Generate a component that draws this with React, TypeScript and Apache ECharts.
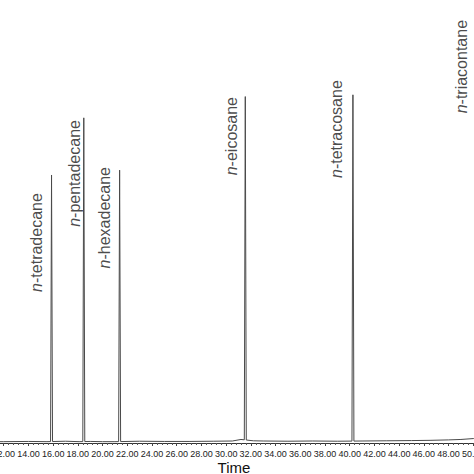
import React, { useEffect, useRef } from "react";
import * as echarts from "echarts";

// Retention times (min) and relative intensities
const peakNames = ["tetradecane", "pentadecane", "hexadecane", "eicosane", "tetracosane", "triacontane"];
const peakTimes = [15.87, 18.48, 21.38, 31.55, 40.26, 50.6];
const peakHeights = [60.5, 73.4, 61.6, 78.2, 78.6, 85];
// label anchor (end of the vertical text) in data units
const labelTimes = [14.64, 17.74, 20.17, 30.4, 38.94, 49.05];
const labelHeights = [56.4, 72.9, 62.3, 78.1, 81.9, 95.5];
// baseline trace
const baselineTimes = [10, 12, 14, 15.5, 17, 18.1, 19, 20, 21, 23, 25, 27, 29, 30.5, 31.2, 32.2, 33, 35, 37, 39, 41, 43, 45, 46.5, 48, 49, 50, 51, 52];
const baselineValues = [0.3, 0.3, 0.35, 0.3, 0.4, 0.3, 0.35, 0.3, 0.3, 0.4, 0.35, 0.35, 0.4, 0.45, 0.8, 0.5, 0.45, 0.4, 0.45, 0.4, 0.45, 0.5, 0.55, 0.6, 0.7, 0.8, 1.0, 1.1, 1.2];
const xMin = 10;
const xMax = 52;
const xInterval = 2;

const PEAK_HALF_WIDTH = 0.08;

function baseAt(t: number): number {
  for (let i = 0; i < baselineTimes.length - 1; i++) {
    if (t >= baselineTimes[i] && t <= baselineTimes[i + 1]) {
      const f = (t - baselineTimes[i]) / (baselineTimes[i + 1] - baselineTimes[i]);
      return baselineValues[i] + f * (baselineValues[i + 1] - baselineValues[i]);
    }
  }
  return baselineValues[baselineValues.length - 1];
}

export default function App() {
  const ref = useRef<HTMLDivElement>(null);
  useEffect(() => {
    if (!ref.current) return;
    const chart = echarts.init(ref.current, undefined, { renderer: "svg" });
    const pts: [number, number][] = [];
    baselineTimes.forEach((t, i) => {
      const nearPeak = peakTimes.some((p) => Math.abs(p - t) < PEAK_HALF_WIDTH * 1.5);
      if (!nearPeak) pts.push([t, baselineValues[i]]);
    });
    peakTimes.forEach((t, i) => {
      pts.push([t - PEAK_HALF_WIDTH, baseAt(t - PEAK_HALF_WIDTH)]);
      pts.push([t, peakHeights[i]]);
      pts.push([t + PEAK_HALF_WIDTH, baseAt(t + PEAK_HALF_WIDTH)]);
    });
    pts.sort((a, b) => a[0] - b[0]);

    const labelData = peakNames.map((n, i) => ({ name: n, value: [labelTimes[i], labelHeights[i]] }));

    chart.setOption({
      animation: false,
      backgroundColor: "#ffffff",
      grid: { left: 0, right: 0, top: 0, bottom: 31, containLabel: false, outerBoundsMode: "none" },
      xAxis: {
        type: "value",
        min: xMin,
        max: xMax,
        interval: xInterval,
        name: "Time",
        nameLocation: "middle",
        nameGap: 17,
        nameMoveOverlap: false,
        nameTextStyle: { fontFamily: "Liberation Sans, Arial, sans-serif", fontSize: 15, color: "#111", padding: [0, 9, 0, 0] },
        axisLine: { show: true, lineStyle: { color: "#333", width: 1 } },
        axisTick: { show: true, length: 3, lineStyle: { color: "#444" } },
        minorTick: { show: true, splitNumber: 5, length: 2, lineStyle: { color: "#555" } },
        splitLine: { show: false },
        axisLabel: {
          margin: 6,
          fontSize: 9,
          fontFamily: "Liberation Sans, Arial, sans-serif",
          color: "#222",
          showMinLabel: true,
          showMaxLabel: true,
          formatter: (v: number) => v.toFixed(2),
        },
      },
      yAxis: { type: "value", min: 0, max: 100, show: false },
      series: [
        {
          type: "line",
          data: pts,
          showSymbol: false,
          lineStyle: { color: "#4a4a4a", width: 1 },
        },
        {
          type: "scatter",
          data: labelData,
          symbolSize: 0,
          label: {
            show: true,
            position: "inside",
            rotate: 90,
            align: "right",
            verticalAlign: "middle",
            fontSize: 16,
            fontFamily: "Liberation Sans, Arial, sans-serif",
            color: "#1a1a1a",
            formatter: (p: any) => "{i|n}-" + p.name,
            rich: {
              i: { fontStyle: "italic", fontSize: 16, fontFamily: "Liberation Sans, Arial, sans-serif", color: "#1a1a1a" },
            },
          },
        },
      ],
    });
    return () => chart.dispose();
  }, []);
  return (
    <div style={{ position: "fixed", left: 0, top: 0, width: 474, height: 474, overflow: "hidden", background: "#fff" }}>
      <div ref={ref} style={{ position: "absolute", left: -20.7, top: 0, width: 519.2, height: 474 }} />
    </div>
  );
}
